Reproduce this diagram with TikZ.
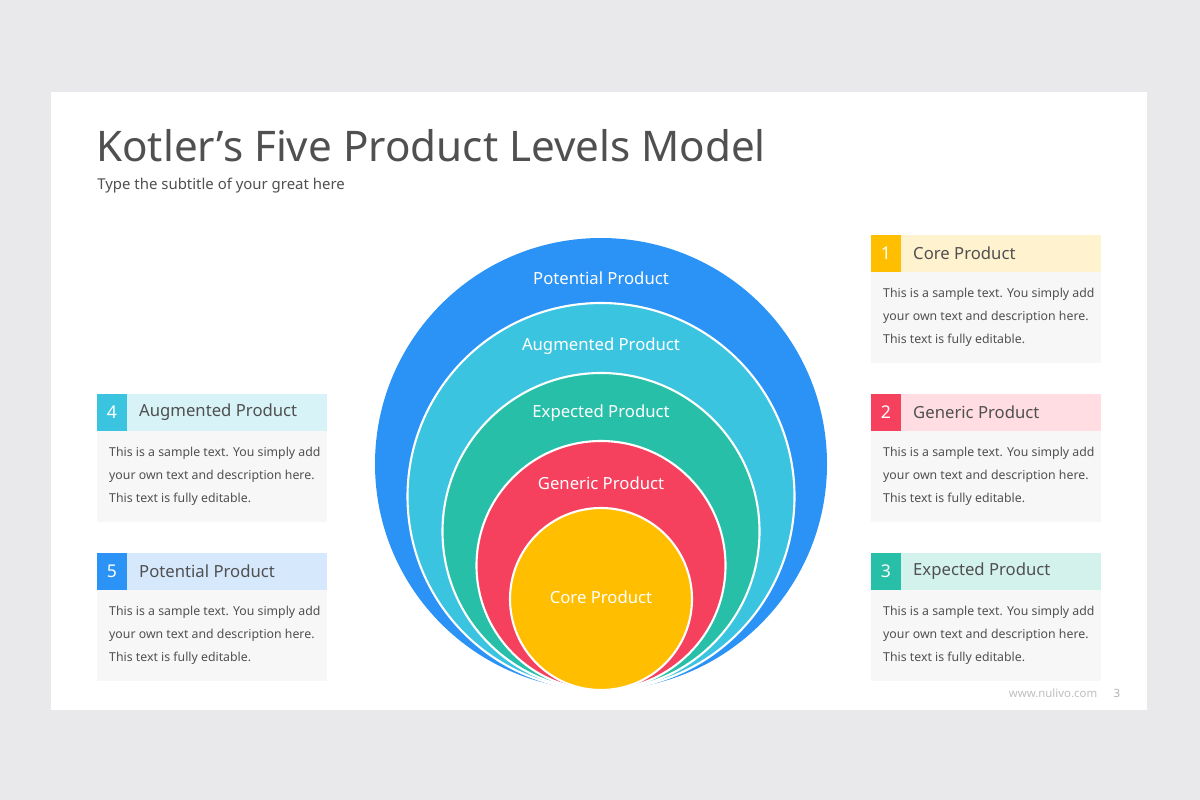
\documentclass[tikz,border=0pt]{standalone}
\usepackage{fontspec}
\setmainfont{Noto Sans}
\definecolor{bg}{HTML}{E9E8EA}
\definecolor{cblue}{HTML}{2A93F5}
\definecolor{ccyan}{HTML}{3BC4E0}
\definecolor{cteal}{HTML}{27BFA8}
\definecolor{cred}{HTML}{F5405E}
\definecolor{cyel}{HTML}{FFBE00}
\definecolor{lyel}{HTML}{FFF2CF}
\definecolor{lred}{HTML}{FFDDE3}
\definecolor{lteal}{HTML}{D4F2EC}
\definecolor{lcyan}{HTML}{D7F3F8}
\definecolor{lblue}{HTML}{D5E8FC}
\definecolor{cardbg}{HTML}{F7F7F7}
\definecolor{ttl}{HTML}{505050}
\begin{document}
\begin{tikzpicture}[x=0.02cm,y=-0.02cm,
 ring/.style={draw=white,line width=1.2pt},
 rlabel/.style={text=white,font=\bfseries\fontsize{9.5}{11}\selectfont},
 numbox/.style={inner sep=0,minimum width=0.58cm,minimum height=0.74cm,text=white,font=\bfseries\fontsize{10}{12}\selectfont},
 headtxt/.style={anchor=west,text=ttl,font=\bfseries\fontsize{9.5}{11}\selectfont},
 bodytxt/.style={anchor=north west,text=ttl,align=left,font=\fontsize{7}{13.2}\selectfont}]
\fill[bg] (0,0) rectangle (1200,800);
\useasboundingbox (0,0) rectangle (1200,800);
\fill[white] (51,92) rectangle (1147,710);
\node[anchor=west,text=ttl,font=\fontsize{24}{28}\selectfont,inner sep=0] (title) at (96,146) {Kotler's Five Product Levels Model};
\node[anchor=west,text=ttl,font=\fontsize{8.5}{10}\selectfont,inner sep=0] (sub) at (97,186) {Type the subtitle of your great here};
% rings
\fill[cblue] (601,464) circle (226);
\filldraw[ring,fill=ccyan] (601,496.5) circle (193.5);
\filldraw[ring,fill=cteal] (601,531.5) circle (158.5);
\filldraw[ring,fill=cred] (601,565.5) circle (124.5);
\filldraw[ring,fill=cyel] (601,599) circle (91);
\node[rlabel] (l1) at (601,278) {Potential Product};
\node[rlabel] (l2) at (601,346) {Augmented Product};
\node[rlabel] (l3) at (601,413) {Expected Product};
\node[rlabel] (l4) at (601,483) {Generic Product};
\node[rlabel] (l5) at (601,597) {Core Product};
% cards
\foreach \x/\y/\n/\c/\lc/\t in {871/235/1/cyel/lyel/Core Product,871/394/2/cred/lred/Generic Product,871/553/3/cteal/lteal/Expected Product,97/394/4/ccyan/lcyan/Augmented Product,97/553/5/cblue/lblue/Potential Product}{
 \fill[\lc] (\x,\y) rectangle ++(230,37);
 \fill[cardbg] (\x,\y+37) rectangle ++(230,91);
 \fill[\c] (\x,\y) rectangle ++(30,37);
 \node[numbox] (n\n) at (\x+15,\y+18.5) {\n};
 \node[headtxt] (h\n) at (\x+36,\y+18.5) {\t};
 \node[bodytxt] (b\n) at (\x+6,\y+47) {This is a sample text. You simply add\\your own text and description here.\\This text is fully editable.};
}
\node[text=black!25,font=\fontsize{6.5}{8}\selectfont] (web) at (1053,693) {www.nulivo.com};
\node[text=black!30,font=\fontsize{6.5}{8}\selectfont] (pg) at (1117,693) {3};
\end{tikzpicture}
\end{document}
